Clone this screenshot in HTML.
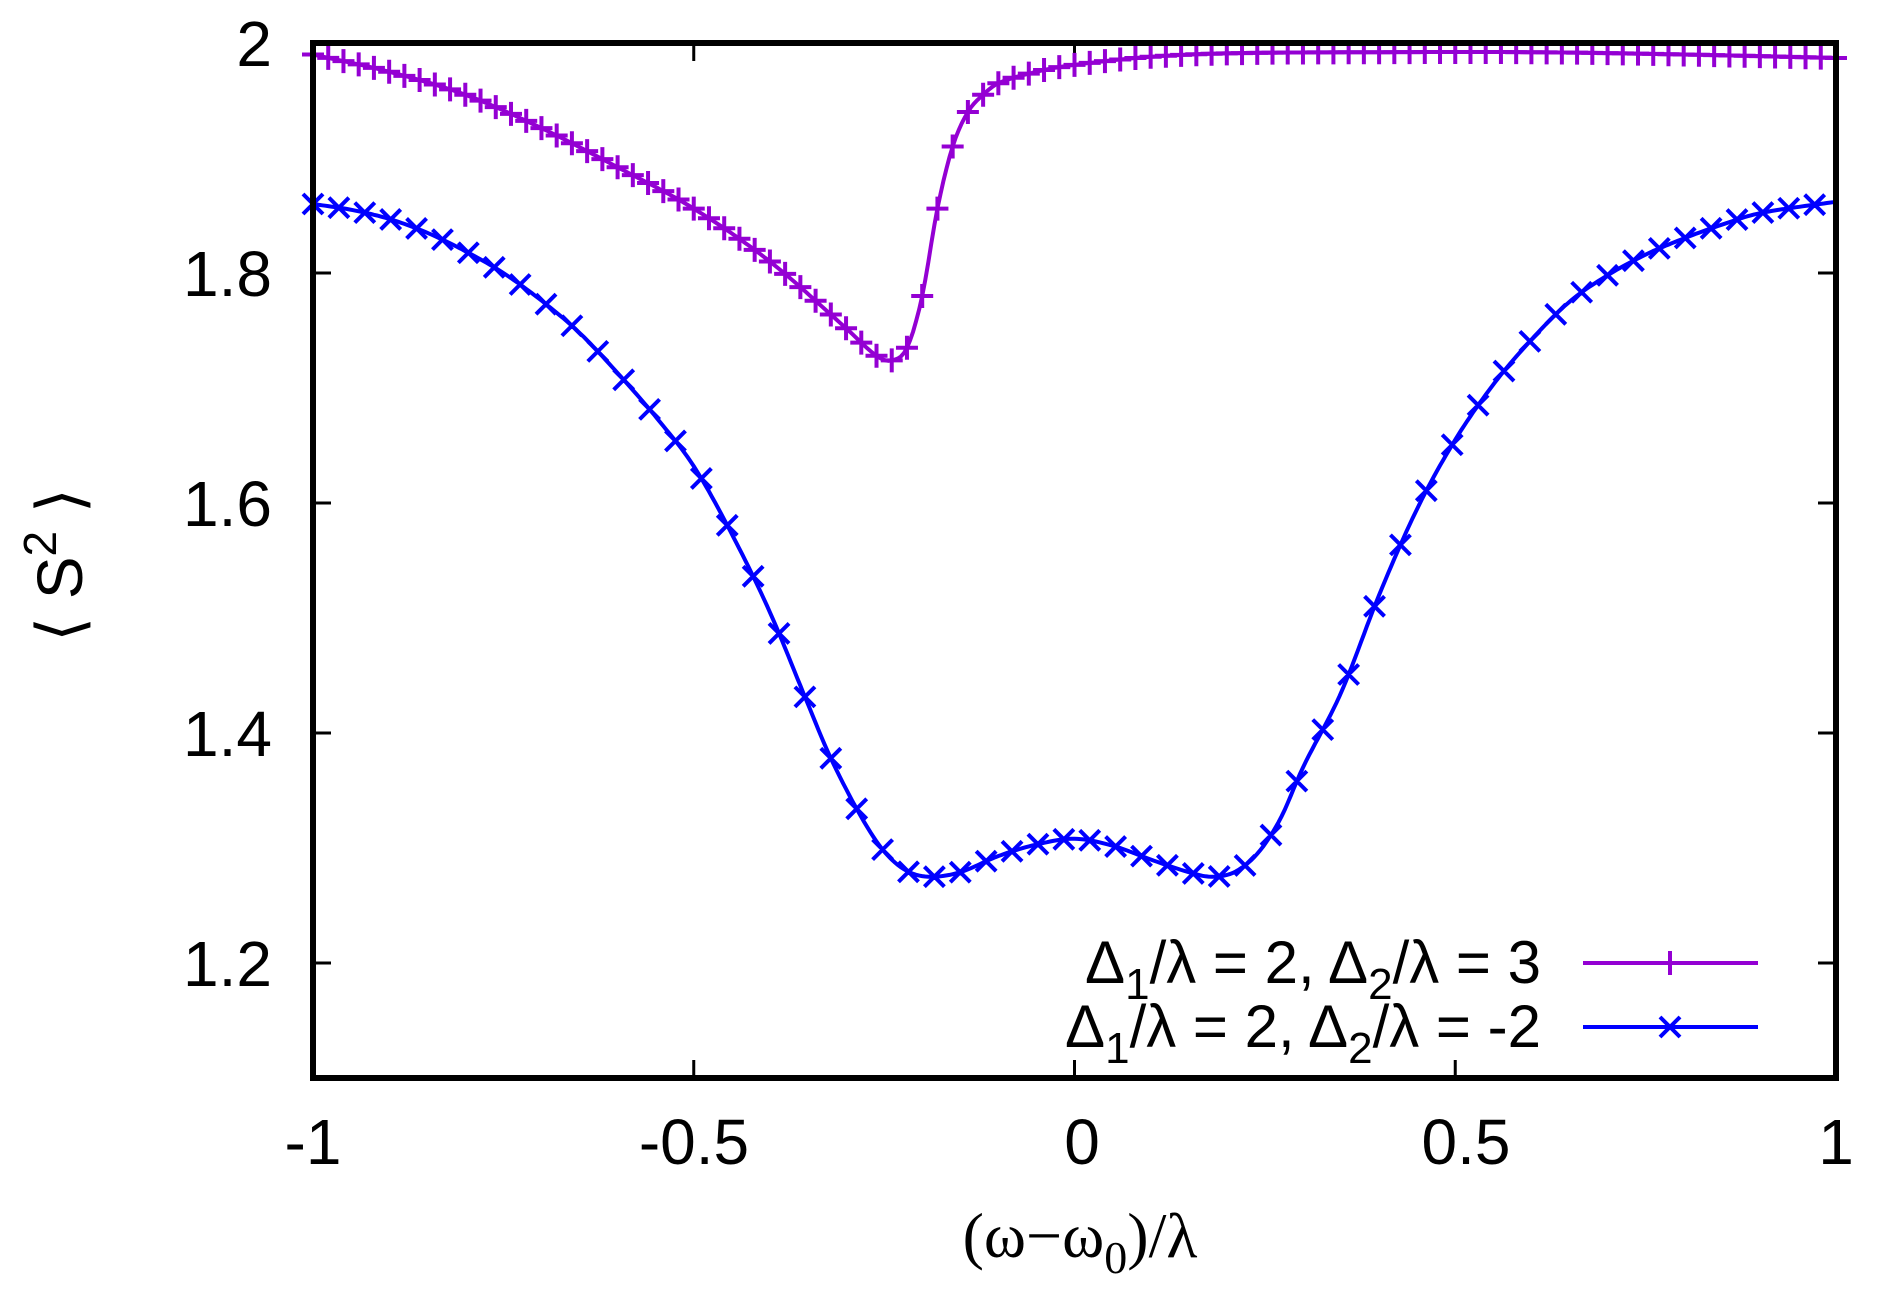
<!DOCTYPE html>
<html><head><meta charset="utf-8"><style>
html,body{margin:0;padding:0;background:#fff}
svg{display:block}
text{font-family:"Liberation Sans",sans-serif;fill:#000}
</style></head><body>
<svg id="s" width="1888" height="1299" viewBox="0 0 1888 1299" xmlns="http://www.w3.org/2000/svg">
<rect width="1888" height="1299" fill="#fff"/>
<g id="ticks" stroke="#000" stroke-width="3"></g>
<g id="series"></g>
<rect x="313" y="43" width="1523" height="1035" fill="none" stroke="#000" stroke-width="6"/>
<g font-size="64" text-anchor="end">
<text x="272" y="66">2</text>
<text x="272" y="296">1.8</text>
<text x="272" y="526">1.6</text>
<text x="272" y="756">1.4</text>
<text x="272" y="986">1.2</text>
</g>
<g font-size="64" text-anchor="middle">
<text x="313" y="1164">-1</text>
<text x="694" y="1164">-0.5</text>
<text x="1082" y="1164">0</text>
<text x="1466" y="1164">0.5</text>
<text x="1836" y="1164">1</text>
</g>
<text x="1080" y="1257" font-size="64" text-anchor="middle" style="font-family:'Liberation Serif',serif">(ω−ω<tspan font-size="46" dy="16">0</tspan><tspan dy="-16">)/λ</tspan></text>
<text transform="translate(82,565) rotate(-90)" font-size="64" text-anchor="middle">⟨ S<tspan font-size="46" dy="-26">2</tspan><tspan dy="26"> ⟩</tspan></text>
<g font-size="60" text-anchor="end">
<text x="1541" y="983">Δ<tspan font-size="44" dy="16">1</tspan><tspan dy="-16">/λ = 2, Δ</tspan><tspan font-size="44" dy="16">2</tspan><tspan dy="-16">/λ = 3</tspan></text>
<text x="1541" y="1047">Δ<tspan font-size="44" dy="16">1</tspan><tspan dy="-16">/λ = 2, Δ</tspan><tspan font-size="44" dy="16">2</tspan><tspan dy="-16">/λ = -2</tspan></text>
</g>
<line x1="1583" y1="963" x2="1758" y2="963" stroke="#9400d3" stroke-width="4"/>
<path d="M1670 951v24M1658 963h24" stroke="#9400d3" stroke-width="4"/>
<line x1="1583" y1="1027" x2="1758" y2="1027" stroke="#0000ff" stroke-width="4"/>
<path d="M1660 1017l20 20M1660 1037l20 -20" stroke="#0000ff" stroke-width="4"/>
</svg>
<script>
(function(){
var NS="http://www.w3.org/2000/svg";
function px(x){return 1074.5+x*761.5}
function py(v){return 43+(2-v)*1150}
var tk=document.getElementById('ticks'),d="";
[-0.5,0,0.5].forEach(function(x){var X=px(x);d+="M"+X+" 1078v-18M"+X+" 43v18"});
[1.2,1.4,1.6,1.8].forEach(function(v){var Y=py(v);d+="M313 "+Y+"h18M1836 "+Y+"h-18"});
var p=document.createElementNS(NS,'path');p.setAttribute('d',d);tk.appendChild(p);
var purple=[[-1,1.99],[-0.9,1.975],[-0.8,1.955],[-0.7,1.926],[-0.6,1.892],[-0.5,1.856],[-0.4,1.81],[-0.3,1.752],[-0.26,1.728],[-0.24,1.724],[-0.22,1.735],[-0.2,1.78],[-0.18,1.856],[-0.16,1.91],[-0.14,1.94],[-0.12,1.955],[-0.1,1.965],[-0.05,1.975],[0,1.981],[0.1,1.988],[0.2,1.991],[0.4,1.992],[0.6,1.992],[0.8,1.99],[1.0,1.987]];
var blue=[[-1,1.86],[-0.95,1.855],[-0.9,1.847],[-0.85,1.835],[-0.8,1.819],[-0.75,1.8],[-0.7,1.776],[-0.65,1.748],[-0.6,1.713],[-0.55,1.675],[-0.5,1.632],[-0.45,1.573],[-0.4,1.505],[-0.35,1.425],[-0.32,1.378],[-0.28,1.327],[-0.25,1.297],[-0.22,1.28],[-0.19,1.275],[-0.15,1.279],[-0.1,1.293],[-0.05,1.303],[0,1.308],[0.05,1.302],[0.1,1.29],[0.15,1.279],[0.18,1.275],[0.21,1.279],[0.24,1.295],[0.27,1.325],[0.3,1.37],[0.35,1.435],[0.4,1.52],[0.45,1.595],[0.5,1.655],[0.55,1.703],[0.6,1.742],[0.65,1.775],[0.7,1.798],[0.75,1.816],[0.8,1.83],[0.85,1.842],[0.9,1.852],[1.0,1.862]];
function interp(pts,x){
 for(var i=0;i<pts.length-1;i++){if(x<=pts[i+1][0]+1e-9){
  var p0=pts[Math.max(i-1,0)],p1=pts[i],p2=pts[i+1],p3=pts[Math.min(i+2,pts.length-1)];
  var t=(x-p1[0])/(p2[0]-p1[0]);
  var h=p2[0]-p1[0];
  var m1=(p2[1]-p0[1])/(p2[0]-p0[0]||1)*h, m2=(p3[1]-p1[1])/(p3[0]-p1[0]||1)*h;
  var t2=t*t,t3=t2*t;
  return (2*t3-3*t2+1)*p1[1]+(t3-2*t2+t)*m1+(-2*t3+3*t2)*p2[1]+(t3-t2)*m2;}}
 return pts[pts.length-1][1];}
var g=document.getElementById('series');
function draw(pts,col,step,mk){
 var s="";for(var x=-1;x<=1.0001;x+=0.004){s+=(s?"L":"M")+px(x).toFixed(1)+" "+py(interp(pts,x)).toFixed(1)}
 var l=document.createElementNS(NS,'path');l.setAttribute('d',s);l.setAttribute('fill','none');l.setAttribute('stroke',col);l.setAttribute('stroke-width','4');g.appendChild(l);
 var m="";for(var x=-1;x<=1.0001;x+=step){var X=px(x),Y=py(interp(pts,x));
  if(mk==='+')m+="M"+(X-11)+" "+Y+"h22M"+X+" "+(Y-12)+"v24";
  else m+="M"+(X-10)+" "+(Y-10)+"l20 20M"+(X-10)+" "+(Y+10)+"l20 -20";}
 var k=document.createElementNS(NS,'path');k.setAttribute('d',m);k.setAttribute('stroke',col);k.setAttribute('stroke-width','4');g.appendChild(k);}
draw(purple,'#9400d3',0.02,'+');
draw(blue,'#0000ff',0.034,'x');
})();
</script>
</body></html>
